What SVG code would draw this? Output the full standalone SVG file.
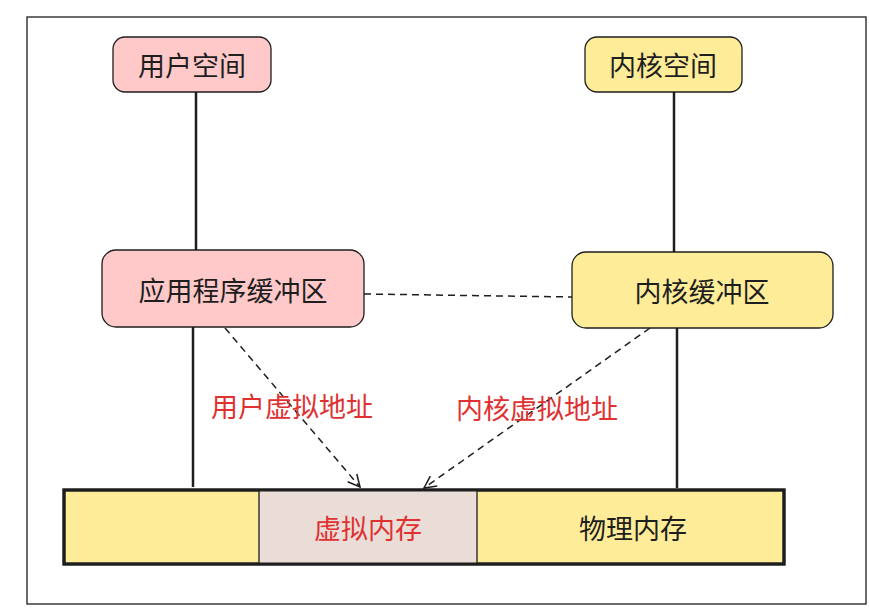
<svg xmlns="http://www.w3.org/2000/svg" width="869" height="614" viewBox="0 0 869 614">
<style>
text{font-family:"Noto Sans CJK SC","Liberation Sans",sans-serif;font-size:27px;text-anchor:middle;dominant-baseline:central;fill:#1e1e1e}
.red{fill:#e03131}
.node{stroke:#1e1e1e;stroke-width:1.3}
.pink{fill:#ffc9c9}.yel{fill:#ffec99}
.ln{stroke:#1e1e1e;stroke-width:2.5;fill:none}
.dash{stroke:#1e1e1e;stroke-width:1.5;stroke-dasharray:7 5;fill:none}
</style>
<defs><marker id="ah" markerWidth="14" markerHeight="14" refX="13" refY="7" orient="auto" markerUnits="userSpaceOnUse"><path d="M1,1 L13,7 L1,13" fill="none" stroke="#1e1e1e" stroke-width="1.5"/></marker></defs>
<rect width="869" height="614" fill="#fff"/>
<rect x="27" y="17" width="839" height="587" fill="none" stroke="#1e1e1e" stroke-width="1.3"/>
<g id="connectors">
<line class="ln" x1="196" y1="92" x2="196" y2="250"/>
<line class="ln" x1="674" y1="92" x2="674" y2="252"/>
<line class="ln" x1="193" y1="327" x2="193" y2="487"/>
<line class="ln" x1="677" y1="328" x2="677" y2="488"/>
<line class="dash" x1="364" y1="294" x2="572" y2="297"/>
<line class="dash" x1="225" y1="328" x2="360" y2="487" marker-end="url(#ah)"/>
<line class="dash" x1="650" y1="328" x2="424" y2="488" marker-end="url(#ah)"/>
<text class="red" x="292" y="405">用户虚拟地址</text>
<text class="red" x="537" y="407">内核虚拟地址</text>
</g>
<g id="user-space"><rect class="node pink" x="113" y="37" width="158" height="55" rx="12"/><text x="192" y="64">用户空间</text></g>
<g id="kernel-space"><rect class="node yel" x="585" y="37" width="157" height="55" rx="12"/><text x="663" y="64">内核空间</text></g>
<g id="app-buffer"><rect class="node pink" x="102" y="250" width="262" height="77" rx="14"/><text x="233" y="289">应用程序缓冲区</text></g>
<g id="kernel-buffer"><rect class="node yel" x="572" y="252" width="261" height="76" rx="14"/><text x="702" y="290">内核缓冲区</text></g>
<g id="memory">
<rect x="64" y="490" width="720" height="74" fill="#ffec99" stroke="#1e1e1e" stroke-width="3"/>
<rect x="259" y="490" width="218" height="74" fill="#eaddd7" stroke="#1e1e1e" stroke-width="1.3"/>
<rect x="64" y="490" width="720" height="74" fill="none" stroke="#1e1e1e" stroke-width="3"/>
<text class="red" x="368" y="527">虚拟内存</text>
<text x="633" y="527">物理内存</text>
</g>
</svg>
